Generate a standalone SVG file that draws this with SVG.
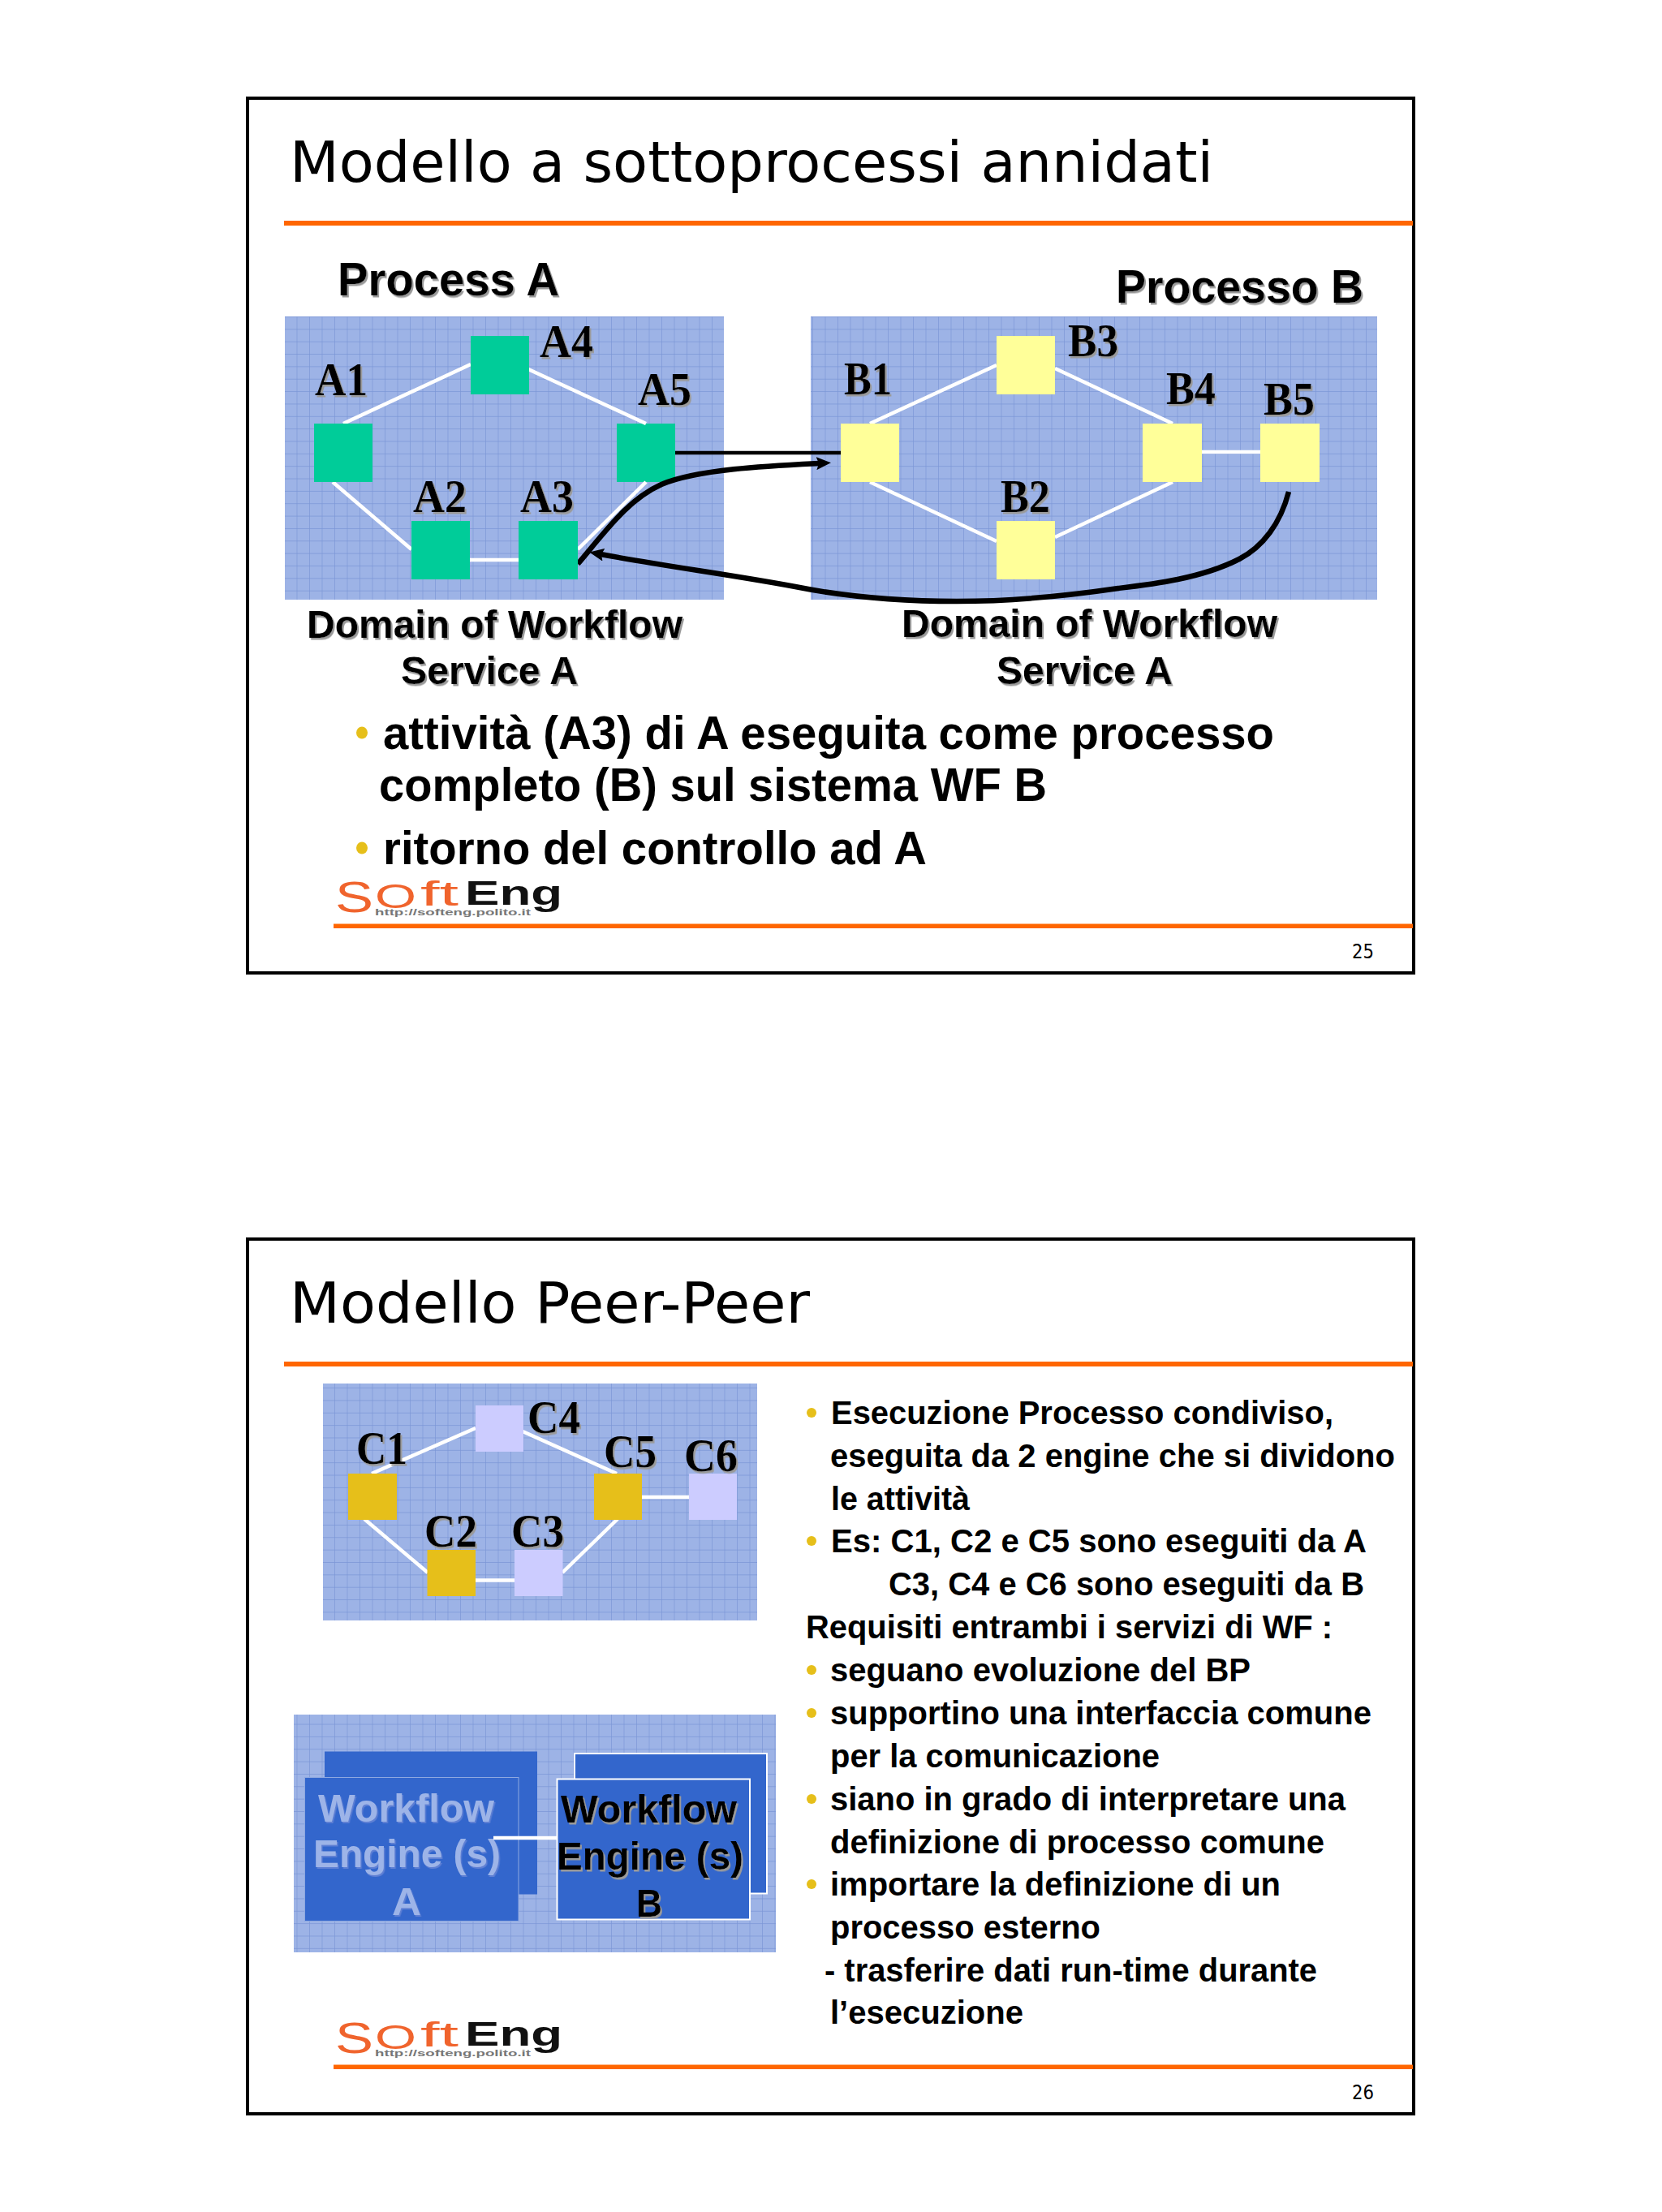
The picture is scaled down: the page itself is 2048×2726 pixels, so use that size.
<svg xmlns="http://www.w3.org/2000/svg" width="2048" height="2726" viewBox="0 0 2048 2726">
<style>
text{font-family:"Liberation Sans",Arial,sans-serif;font-weight:bold;fill:#000}
.title{font-family:"DejaVu Sans",sans-serif;font-weight:normal;font-size:70px}
.num{font-family:"DejaVu Sans",sans-serif;font-weight:normal;font-size:24px}
.lab{font-family:"Liberation Serif",serif;font-size:57px;filter:url(#sh)}
.head{font-size:57px;filter:url(#sh)}
.dom{font-size:48px;filter:url(#sh)}
.big{font-size:57px}
.body{font-size:41px}
.eng{font-size:48px;filter:url(#sh)}
.engA{fill:#9db4e8;filter:url(#sh2)}
.frame{fill:none;stroke:#000;stroke-width:4}
.rule{fill:#ff6600}
.panel{fill:url(#grid)}
.edge{stroke:#fff;stroke-width:4.5;fill:none}
.flow{stroke:#000;stroke-width:6.5;fill:none}
.a{fill:#00cc99}.b{fill:#ffff99}.g{fill:#e6bf1a}.l{fill:#ccccff}
.blue{fill:#3366cc}
.wb{stroke:#fff;stroke-width:2}
.dot{fill:#e6bf1a}
.lo{fill:#f0642d;font-weight:normal}
.lk{fill:#111;font-weight:bold}
.url{fill:#777;font-size:10px;font-weight:bold}
</style>
<defs>
<pattern id="grid" patternUnits="userSpaceOnUse" x="350" y="390" width="15.5" height="15.35">
<rect width="15.5" height="15.35" fill="#9db3e6"/>
<path d="M0 0H15.5M0 0V15.35" stroke="#7a96d6" stroke-width="1.3" fill="none"/>
</pattern>
<filter id="sh" x="-10%" y="-10%" width="120%" height="125%"><feDropShadow dx="2" dy="2.5" stdDeviation="0.6" flood-color="#9a9a9a"/></filter>
<filter id="sh2" x="-10%" y="-10%" width="120%" height="125%"><feDropShadow dx="1.500" dy="2" stdDeviation="0.6" flood-color="#5f80d4"/></filter>
<marker id="ah" markerUnits="userSpaceOnUse" viewBox="0 0 18 16" refX="4" refY="8" markerWidth="18" markerHeight="16" orient="auto"><path d="M0 0L18 8L0 16L3 8Z" fill="#000"/></marker>
</defs>
<rect width="2048" height="2726" fill="#fff"/>

<g id="slide25-frame">
<rect class="frame" x="305" y="121" width="1437" height="1078"/>
<text class="title" x="357" y="224" textLength="1138" lengthAdjust="spacingAndGlyphs">Modello a sottoprocessi annidati</text>
<rect class="rule" x="350" y="272" width="1391" height="6"/>
<rect class="rule" x="411" y="1138.500" width="1330" height="5.500"/>
<text class="num" x="1666" y="1181" textLength="27" lengthAdjust="spacingAndGlyphs">25</text>
</g>
<g id="slide25-logo">
<text class="lo" x="413" y="1124" font-size="54" textLength="47" lengthAdjust="spacingAndGlyphs">S</text>
<text class="lo" x="462" y="1119" font-size="42" textLength="51" lengthAdjust="spacingAndGlyphs">O</text>
<text class="lo" x="518" y="1116" font-size="42" textLength="47" lengthAdjust="spacingAndGlyphs">ft</text>
<text class="lk" x="573" y="1115" font-size="43" textLength="120" lengthAdjust="spacingAndGlyphs">Eng</text>
<text class="url" x="462" y="1128" textLength="192" lengthAdjust="spacingAndGlyphs">http://softeng.polito.it</text>
</g>
<g id="slide25-panels">
<rect class="panel" x="351" y="390" width="541" height="349"/>
<rect class="panel" x="999" y="390" width="698" height="349"/>
</g>
<g id="slide25-headings">
<text class="head" x="416" y="364" textLength="273" lengthAdjust="spacingAndGlyphs">Process A</text>
<text class="head" x="1375" y="373" textLength="305" lengthAdjust="spacingAndGlyphs">Processo B</text>
<text class="dom" x="378" y="786" textLength="463" lengthAdjust="spacingAndGlyphs">Domain of Workflow</text>
<text class="dom" x="494" y="843" textLength="218" lengthAdjust="spacingAndGlyphs">Service A</text>
<text class="dom" x="1111" y="785" textLength="463" lengthAdjust="spacingAndGlyphs">Domain of Workflow</text>
<text class="dom" x="1228" y="843" textLength="217" lengthAdjust="spacingAndGlyphs">Service A</text>
</g>
<g id="slide25-text">
<ellipse class="dot" cx="446" cy="903" rx="7" ry="7.500"/>
<text class="big" x="472" y="923" textLength="1098" lengthAdjust="spacingAndGlyphs">attività (A3) di A eseguita come processo</text>
<text class="big" x="467" y="987" textLength="823" lengthAdjust="spacingAndGlyphs">completo (B) sul sistema WF B</text>
<ellipse class="dot" cx="446" cy="1045" rx="7" ry="7.500"/>
<text class="big" x="472" y="1065" textLength="670" lengthAdjust="spacingAndGlyphs">ritorno del controllo ad A</text>
</g>

<g id="slide26-frame">
<rect class="frame" x="305" y="1527" width="1437" height="1078"/>
<text class="title" x="357" y="1630" textLength="641" lengthAdjust="spacingAndGlyphs">Modello Peer-Peer</text>
<rect class="rule" x="350" y="1678" width="1391" height="6"/>
<rect class="rule" x="411" y="2544.500" width="1330" height="5.500"/>
<text class="num" x="1666" y="2587" textLength="27" lengthAdjust="spacingAndGlyphs">26</text>
</g>
<g id="slide26-logo">
<text class="lo" x="413" y="2530" font-size="54" textLength="47" lengthAdjust="spacingAndGlyphs">S</text>
<text class="lo" x="462" y="2525" font-size="42" textLength="51" lengthAdjust="spacingAndGlyphs">O</text>
<text class="lo" x="518" y="2522" font-size="42" textLength="47" lengthAdjust="spacingAndGlyphs">ft</text>
<text class="lk" x="573" y="2521" font-size="43" textLength="120" lengthAdjust="spacingAndGlyphs">Eng</text>
<text class="url" x="462" y="2534" textLength="192" lengthAdjust="spacingAndGlyphs">http://softeng.polito.it</text>
</g>
<g id="slide26-panels">
<rect class="panel" x="398" y="1705" width="535" height="292"/>
<rect class="panel" x="362" y="2113" width="594" height="293"/>
</g>
<g id="slide26-text">
<circle class="dot" cx="1000" cy="1741" r="6"/>
<text class="body" x="1024" y="1755" textLength="619" lengthAdjust="spacingAndGlyphs">Esecuzione Processo condiviso,</text>
<text class="body" x="1023" y="1808" textLength="696" lengthAdjust="spacingAndGlyphs">eseguita da 2 engine che si dividono</text>
<text class="body" x="1024" y="1861" textLength="171" lengthAdjust="spacingAndGlyphs">le attività</text>
<circle class="dot" cx="1000" cy="1899" r="6"/>
<text class="body" x="1024" y="1913" textLength="660" lengthAdjust="spacingAndGlyphs">Es: C1, C2 e C5 sono eseguiti da A</text>
<text class="body" x="1095" y="1966" textLength="586" lengthAdjust="spacingAndGlyphs">C3, C4 e C6 sono eseguiti da B</text>
<text class="body" x="993" y="2019" textLength="649" lengthAdjust="spacingAndGlyphs">Requisiti entrambi i servizi di WF :</text>
<circle class="dot" cx="1000" cy="2058" r="6"/>
<text class="body" x="1023" y="2072" textLength="518" lengthAdjust="spacingAndGlyphs">seguano evoluzione del BP</text>
<circle class="dot" cx="1000" cy="2111" r="6"/>
<text class="body" x="1023" y="2125" textLength="667" lengthAdjust="spacingAndGlyphs">supportino una interfaccia comune</text>
<text class="body" x="1023" y="2178" textLength="406" lengthAdjust="spacingAndGlyphs">per la comunicazione</text>
<circle class="dot" cx="1000" cy="2217" r="6"/>
<text class="body" x="1023" y="2231" textLength="635" lengthAdjust="spacingAndGlyphs">siano in grado di interpretare una</text>
<text class="body" x="1023" y="2284" textLength="609" lengthAdjust="spacingAndGlyphs">definizione di processo comune</text>
<circle class="dot" cx="1000" cy="2322" r="6"/>
<text class="body" x="1023" y="2336" textLength="555" lengthAdjust="spacingAndGlyphs">importare la definizione di un</text>
<text class="body" x="1023" y="2389" textLength="333" lengthAdjust="spacingAndGlyphs">processo esterno</text>
<text class="body" x="1016" y="2442" textLength="607" lengthAdjust="spacingAndGlyphs">- trasferire dati run-time durante</text>
<text class="body" x="1023" y="2494" textLength="238" lengthAdjust="spacingAndGlyphs">l’esecuzione</text>
</g>

<g id="engine-A">
<rect class="blue" x="400" y="2158.500" width="262" height="176"/>
<rect class="blue" x="375.500" y="2190.500" width="263.500" height="177" stroke="#8ea8e0" stroke-width="1"/>
<text class="eng engA" x="392" y="2245" textLength="217" lengthAdjust="spacingAndGlyphs">Workflow</text>
<text class="eng engA" x="386" y="2301" textLength="231" lengthAdjust="spacingAndGlyphs">Engine (s)</text>
<text class="eng engA" x="483" y="2360" textLength="36" lengthAdjust="spacingAndGlyphs">A</text>
</g>
<g id="engine-B">
<rect class="blue wb" x="708" y="2161" width="237" height="172.500"/>
<rect class="blue wb" x="686.500" y="2192.500" width="237.500" height="173"/>
<text class="eng" x="691" y="2246" textLength="217" lengthAdjust="spacingAndGlyphs">Workflow</text>
<text class="eng" x="686" y="2304" textLength="230" lengthAdjust="spacingAndGlyphs">Engine (s)</text>
<text class="eng" x="784" y="2362" textLength="32" lengthAdjust="spacingAndGlyphs">B</text>
</g>
<g id="node-A5"><rect class="a" x="760" y="522" width="72" height="72"/><text class="lab" x="786" y="499" textLength="66" lengthAdjust="spacingAndGlyphs">A5</text></g>

<g id="connectors">
<path class="edge" d="M423 522L580 449M651 455L796 522M410 594L507 677M579 690H639M712 677L796 594"/>
<path class="edge" d="M1072 522L1228 450M1300 454L1445 522M1072 594L1228 667M1300 662L1445 594M1481 557H1553"/>
<path class="edge" d="M458 1816L586 1760M644 1764L760 1816M449 1872L527 1938M586 1947.500H634M693 1938L761 1872M791 1845H849"/>
<path class="edge" d="M608 2265H686"/>
<path class="flow" d="M832 558H1036" style="stroke-width:4.5"/>
<path class="flow" d="M712 695C750 650 775 615 815 597C860 578 950 574 1010 571" marker-end="url(#ah)"/>
<path class="flow" d="M1588 606C1578 645 1556 674 1527 689C1480 713 1420 720 1378 725C1310 735 1240 741 1179 741C1110 741 1040 735 980 723C900 708 820 698 740 683" marker-end="url(#ah)"/>
</g>

<g id="node-A1"><rect class="a" x="387" y="522" width="72" height="72"/><text class="lab" x="388" y="487" textLength="65" lengthAdjust="spacingAndGlyphs">A1</text></g>
<g id="node-A2"><rect class="a" x="507" y="642" width="72" height="72"/><text class="lab" x="509" y="631" textLength="66" lengthAdjust="spacingAndGlyphs">A2</text></g>
<g id="node-A3"><rect class="a" x="639" y="642" width="73" height="72"/><text class="lab" x="641" y="631" textLength="66" lengthAdjust="spacingAndGlyphs">A3</text></g>
<g id="node-A4"><rect class="a" x="580" y="414" width="72" height="72"/><text class="lab" x="665" y="440" textLength="66" lengthAdjust="spacingAndGlyphs">A4</text></g>
<g id="node-B1"><rect class="b" x="1036" y="522" width="72" height="72"/><text class="lab" x="1040" y="486" textLength="59" lengthAdjust="spacingAndGlyphs">B1</text></g>
<g id="node-B2"><rect class="b" x="1228" y="642" width="72" height="72"/><text class="lab" x="1233" y="631" textLength="61" lengthAdjust="spacingAndGlyphs">B2</text></g>
<g id="node-B3"><rect class="b" x="1228" y="414" width="72" height="72"/><text class="lab" x="1316" y="439" textLength="62" lengthAdjust="spacingAndGlyphs">B3</text></g>
<g id="node-B4"><rect class="b" x="1408" y="522" width="73" height="72"/><text class="lab" x="1437" y="498" textLength="61" lengthAdjust="spacingAndGlyphs">B4</text></g>
<g id="node-B5"><rect class="b" x="1553" y="522" width="73" height="72"/><text class="lab" x="1557" y="511" textLength="63" lengthAdjust="spacingAndGlyphs">B5</text></g>
<g id="node-C1"><rect class="g" x="429" y="1816" width="60" height="57"/><text class="lab" x="439" y="1804" textLength="63" lengthAdjust="spacingAndGlyphs">C1</text></g>
<g id="node-C2"><rect class="g" x="526.500" y="1910" width="59.500" height="57"/><text class="lab" x="523" y="1906" textLength="65" lengthAdjust="spacingAndGlyphs">C2</text></g>
<g id="node-C3"><rect class="l" x="634" y="1910" width="59.500" height="57"/><text class="lab" x="630" y="1906" textLength="65" lengthAdjust="spacingAndGlyphs">C3</text></g>
<g id="node-C4"><rect class="l" x="586" y="1732" width="59" height="57"/><text class="lab" x="650" y="1766" textLength="65" lengthAdjust="spacingAndGlyphs">C4</text></g>
<g id="node-C5"><rect class="g" x="732" y="1816" width="59" height="57"/><text class="lab" x="744" y="1808" textLength="65" lengthAdjust="spacingAndGlyphs">C5</text></g>
<g id="node-C6"><rect class="l" x="849" y="1816" width="59" height="57"/><text class="lab" x="843" y="1813" textLength="66" lengthAdjust="spacingAndGlyphs">C6</text></g>
</svg>
